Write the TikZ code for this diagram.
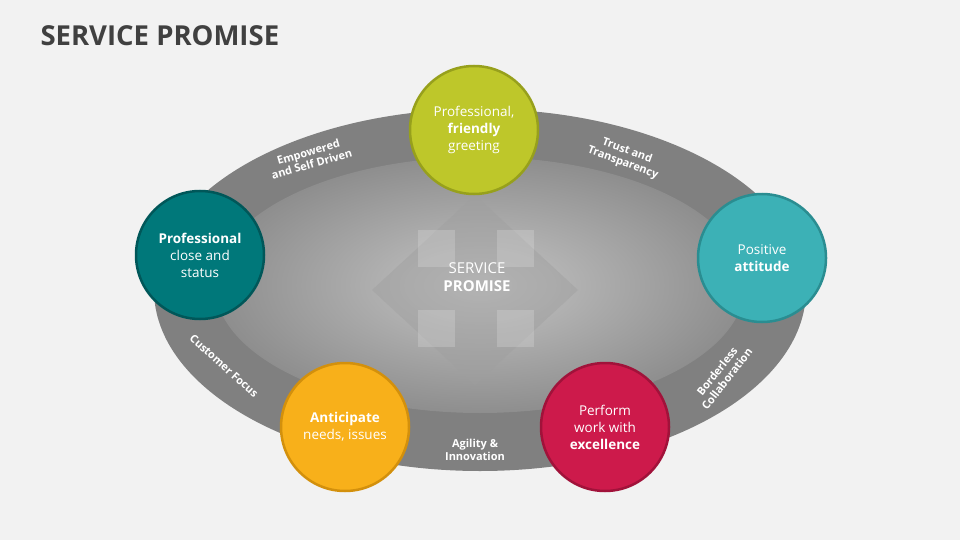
\documentclass[tikz,border=0pt]{standalone}
\usepackage{fontspec}
\setmainfont{Open Sans}
\definecolor{bg}{HTML}{F2F2F2}
\definecolor{ttl}{HTML}{404040}
\definecolor{ring}{HTML}{808080}
\definecolor{inO}{HTML}{8E8E8E}
\definecolor{inI}{HTML}{C4C4C4}
\definecolor{cg}{HTML}{BEC72A}\definecolor{cgb}{HTML}{97A01C}
\definecolor{ct}{HTML}{00787A}\definecolor{ctb}{HTML}{005759}
\definecolor{cc}{HTML}{3CB1B6}\definecolor{ccb}{HTML}{2A8D91}
\definecolor{co}{HTML}{F8B01A}\definecolor{cob}{HTML}{D3900C}
\definecolor{cr}{HTML}{CD1A4B}\definecolor{crb}{HTML}{A1123A}
\begin{document}
\begin{tikzpicture}[x=1pt,y=-1pt,
  circ/.style={circle,minimum size=128pt,line width=2.5pt,text=white,align=center,font=\fontsize{13.5}{17}\selectfont,inner sep=0pt},
  rl/.style={text=white,font=\bfseries\fontsize{11}{12.5}\selectfont,align=center,inner sep=0pt}]
\fill[bg] (0,0) rectangle (960,540);
\useasboundingbox (0,0) rectangle (960,540);
\node[anchor=west,text=ttl,font=\bfseries\fontsize{27.5}{30}\selectfont] (title) at (37,36) {SERVICE PROMISE};
\fill[ring] (480,290) ellipse [x radius=326pt, y radius=181pt];
\shade[inner color=inI, outer color=inO] (480,285) ellipse [x radius=265pt, y radius=128pt];
\fill[gray!75,opacity=0.45] (475,195) -- (578,290) -- (475,385) -- (372,290) -- cycle;
\foreach \x/\y in {418/230,497/230,418/310,497/310}
  \fill[white,opacity=0.18] (\x,\y) rectangle ++(37,37);
\node[text=white,font=\fontsize{15}{18}\selectfont,align=center] (c) at (477,277) {SERVICE\\\textbf{PROMISE}};
\node[rl,rotate=16] (l1) at (310,158) {Empowered\\and Self Driven};
\node[rl,rotate=-20] (l2) at (625,157) {Trust and\\Transparency};
\node[rl,rotate=-42] (l3) at (224,366) {Customer Focus};
\node[rl,rotate=52] (l4) at (722,375) {Borderless\\Collaboration};
\node[rl] (l5) at (475,450) {Agility \&\\Innovation};
\node[circ,fill=cg,draw=cgb] (g) at (474,130) {Professional,\\\textbf{friendly}\\greeting};
\node[circ,fill=ct,draw=ctb] (t) at (200,255) {\textbf{Professional}\\close and\\status};
\node[circ,fill=cc,draw=ccb] (cy) at (762,258) {Positive\\\textbf{attitude}};
\node[circ,fill=co,draw=cob] (o) at (345,427) {\textbf{Anticipate}\\needs, issues};
\node[circ,fill=cr,draw=crb] (r) at (605,427) {Perform\\work with\\\textbf{excellence}};
\end{tikzpicture}
\end{document}
